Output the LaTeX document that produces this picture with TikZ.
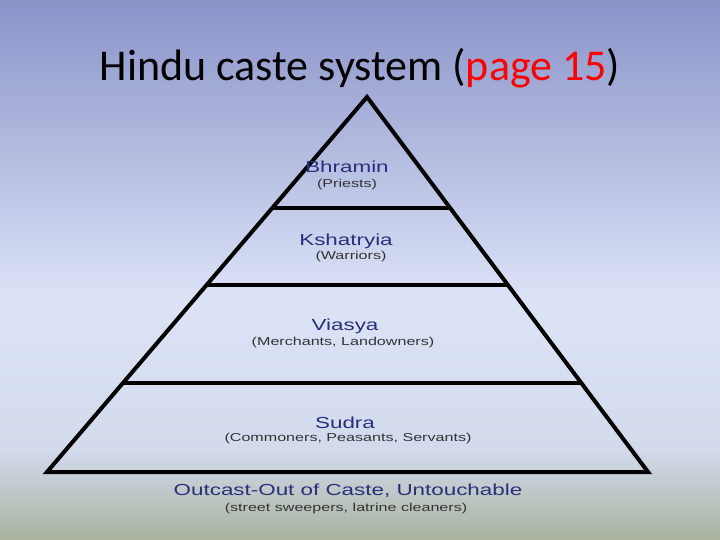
\documentclass[tikz,border=0pt]{standalone}
\usepackage{fontspec}
\usepackage{graphicx}
\usetikzlibrary{calc}
\setmainfont{Liberation Sans}
\newfontfamily\titlefont{Carlito}
\definecolor{navy}{HTML}{2A2F7A}
\definecolor{bgtop}{HTML}{8A93C8}
\definecolor{bgmid}{HTML}{DCE3F7}
\definecolor{bglow}{HTML}{D2DAEC}
\definecolor{bgbot}{HTML}{A9B39F}
\newcommand{\wide}[1]{\scalebox{1.4}[1]{#1}}
\tikzset{
  main/.style={font=\fontsize{16}{18}\selectfont, text=navy, inner sep=0pt},
  sub/.style={font=\fontsize{11.5}{13}\selectfont, text=black!80, inner sep=0pt},
  pyr/.style={line width=4pt, black},
}
\begin{document}
\begin{tikzpicture}[x=1pt,y=-1pt]
\useasboundingbox (0,0) rectangle (720,540);
\shade[top color=bgtop, bottom color=bgmid] (0,0) rectangle (720,300);
\shade[top color=bgmid, bottom color=bglow] (0,299.5) rectangle (720,450);
\shade[top color=bglow, bottom color=bgbot] (0,449.5) rectangle (720,540);
\node[font=\titlefont\fontsize{44}{48}\selectfont, inner sep=0pt] (title) at (360,68) {Hindu caste system (\textcolor{red}{page 15})};
\coordinate (apex) at (367,97);
\coordinate (bl) at (47,472);
\coordinate (br) at (648,472);
\draw[pyr, line join=miter] (bl) -- (apex) -- (br) -- cycle;
\foreach \y/\n in {208/1,285/2,383/3}{
  \pgfmathsetmacro{\t}{(\y-97)/375}
  \coordinate (l\n) at ($(apex)!\t!(bl)$);
  \coordinate (r\n) at ($(apex)!\t!(br)$);
  \draw[pyr] (l\n) -- (r\n);
}
\node[main] (b) at (347,167) {\wide{Bhramin}};
\node[sub] (bs) at (347,185) {\wide{(Priests)}};
\node[main] (k) at (346,241) {\wide{Kshatryia}};
\node[sub] (ks) at (351,257) {\wide{(Warriors)}};
\node[main] (v) at (345,326) {\wide{Viasya}};
\node[sub] (vs) at (343,343) {\wide{(Merchants, Landowners)}};
\node[main] (s) at (345,423) {\wide{Sudra}};
\node[sub] (ss) at (348,439) {\wide{(Commoners, Peasants, Servants)}};
\node[main] (o) at (348,491) {\wide{Outcast-Out of Caste, Untouchable}};
\node[sub] (os) at (346,509) {\wide{(street sweepers, latrine cleaners)}};
\end{tikzpicture}
\end{document}
